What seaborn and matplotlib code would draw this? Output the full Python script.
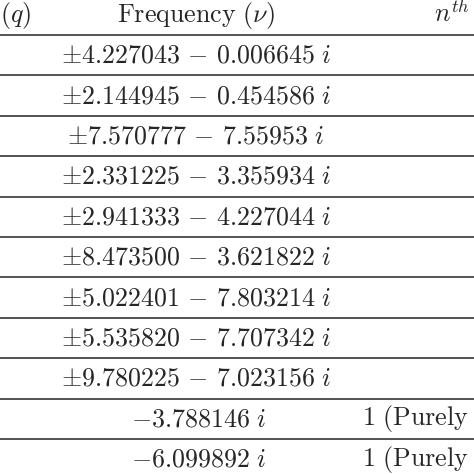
import matplotlib
matplotlib.use("Agg")
import matplotlib.pyplot as plt
import seaborn as sns

sns.set_theme(style="white")
plt.rcParams['mathtext.fontset'] = 'cm'
plt.rcParams['font.family'] = ['DejaVu Serif']

freq_real = ["4.227043", "2.144945", "7.570777", "2.331225", "2.941333", "8.473500",
             "5.022401", "5.535820", "9.780225", None, None]
freq_imag = ["0.006645", "0.454586", "7.55953", "3.355934", "4.227044", "3.621822",
             "7.803214", "7.707342", "7.023156", "3.788146", "6.099892"]
nth = ["", "", "", "", "", "", "", "", "", "1 (Purely", "1 (Purely"]

fig = plt.figure(figsize=(4.74, 4.74), dpi=100)
ax = fig.add_axes([0, 0, 1, 1])
ax.set_xlim(0, 474)
ax.set_ylim(474, 0)
ax.axis('off')

fs = 18.7
ax.text(0, 15, r"$(q)$", fontsize=fs, ha='left', va='center')
ax.text(196, 15, r"$\mathrm{Frequency}\ (\nu)$", fontsize=fs, ha='center', va='center')
ax.text(434, 13, r"$n^{th}$", fontsize=fs, ha='left', va='center')

step = 40.4
for k in range(11):
    y = 35 + step * k
    ax.axhline(y, color='#444444', lw=1.3)
    yc = y + step / 2
    if freq_real[k] is not None:
        ax.text(196, yc, rf"$\pm{freq_real[k]}\,-\,{freq_imag[k]}\ i$", fontsize=fs,
                ha='center', va='center')
    else:
        ax.text(266, yc, rf"$-{freq_imag[k]}\ i$", fontsize=fs, ha='right', va='center')
    if nth[k]:
        ax.text(362, yc, rf"$\mathrm{{{nth[k].replace(' ', r'\ ')}}}$", fontsize=fs,
                ha='left', va='center')

fig.savefig("out.png", dpi=100, facecolor='white')
